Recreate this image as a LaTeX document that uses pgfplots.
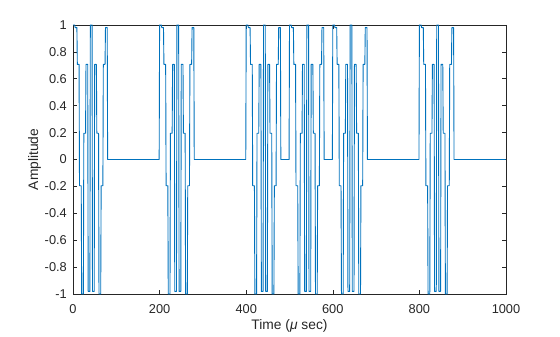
\documentclass[border=0pt]{standalone}
\usepackage{pgfplots}
\pgfplotsset{compat=1.18}
\usepackage{fontspec}
\setmainfont{Liberation Sans}
\definecolor{mblue}{rgb}{0,0.447,0.741}
\definecolor{axgray}{rgb}{0.15,0.15,0.15}
\begin{document}
\begin{tikzpicture}
\path[use as bounding box] (0,0) rectangle (560pt,337pt);
\begin{axis}[
  at={(73pt,43pt)}, anchor=south west,
  scale only axis, width=433pt, height=269pt,
  xmin=0, xmax=1000, ymin=-1, ymax=1,
  xtick={0,200,400,600,800,1000},
  xticklabels={0,200,400,600,800,1000},
  ytick={-1,-0.8,-0.6,-0.4,-0.2,0,0.2,0.4,0.6,0.8,1},
  yticklabels={-1,-0.8,-0.6,-0.4,-0.2,0,0.2,0.4,0.6,0.8,1},
  tick align=inside, major tick length=4.3pt,
  axis line style={axgray, line width=0.6pt},
  tick style={axgray, line width=0.6pt},
  xticklabel style={inner sep=0pt, anchor=north, yshift=-10pt, font=\fontsize{12.8}{15}\selectfont, text=axgray},
  yticklabel style={inner sep=0pt, anchor=east, xshift=-6pt, font=\fontsize{12.8}{15}\selectfont, text=axgray},
  xlabel={Time ({\itshape μ} sec)},
  ylabel={Amplitude},
  xlabel style={at={(axis description cs:0.5,-0.1338)}, anchor=base, inner sep=0pt, font=\fontsize{13.8}{16}\selectfont, text=axgray},
  ylabel style={at={(axis description cs:-0.0808,0.5)}, anchor=base, inner sep=0pt, font=\fontsize{13.8}{16}\selectfont, text=axgray},
  clip=false,
]
\addplot[color=mblue, line width=0.9pt, line join=round] table {
t v
0 1
4 1
5 0.9808
9 0.9808
10 0.7071
14 0.7071
15 -0.1951
19 -0.1951
20 -1
24 -1
25 0.1951
29 0.1951
30 0.7071
34 0.7071
35 -0.9808
39 -0.9808
40 1
44 1
45 -0.9808
49 -0.9808
50 0.7071
54 0.7071
55 0.1951
59 0.1951
60 -1
64 -1
65 -0.1951
69 -0.1951
70 0.7071
74 0.7071
75 0.9808
79 0.9808
80 0
199 0
200 1
204 1
205 0.9808
209 0.9808
210 0.7071
214 0.7071
215 -0.1951
219 -0.1951
220 -1
224 -1
225 0.1951
229 0.1951
230 0.7071
234 0.7071
235 -0.9808
239 -0.9808
240 1
244 1
245 -0.9808
249 -0.9808
250 0.7071
254 0.7071
255 0.1951
259 0.1951
260 -1
264 -1
265 -0.1951
269 -0.1951
270 0.7071
274 0.7071
275 0.9808
279 0.9808
280 0
399 0
400 1
404 1
405 0.9808
409 0.9808
410 0.7071
414 0.7071
415 -0.1951
419 -0.1951
420 -1
424 -1
425 0.1951
429 0.1951
430 0.7071
434 0.7071
435 -0.9808
439 -0.9808
440 1
444 1
445 -0.9808
449 -0.9808
450 0.7071
454 0.7071
455 0.1951
459 0.1951
460 -1
464 -1
465 -0.1951
469 -0.1951
470 0.7071
474 0.7071
475 0.9808
479 0.9808
480 0
499 0
500 1
504 1
505 0.9808
509 0.9808
510 0.7071
514 0.7071
515 -0.1951
519 -0.1951
520 -1
524 -1
525 0.1951
529 0.1951
530 0.7071
534 0.7071
535 -0.9808
539 -0.9808
540 1
544 1
545 -0.9808
549 -0.9808
550 0.7071
554 0.7071
555 0.1951
559 0.1951
560 -1
564 -1
565 -0.1951
569 -0.1951
570 0.7071
574 0.7071
575 0.9808
579 0.9808
580 0
599 0
600 1
604 1
605 0.9808
609 0.9808
610 0.7071
614 0.7071
615 -0.1951
619 -0.1951
620 -1
624 -1
625 0.1951
629 0.1951
630 0.7071
634 0.7071
635 -0.9808
639 -0.9808
640 1
644 1
645 -0.9808
649 -0.9808
650 0.7071
654 0.7071
655 0.1951
659 0.1951
660 -1
664 -1
665 -0.1951
669 -0.1951
670 0.7071
674 0.7071
675 0.9808
679 0.9808
680 0
799 0
800 1
804 1
805 0.9808
809 0.9808
810 0.7071
814 0.7071
815 -0.1951
819 -0.1951
820 -1
824 -1
825 0.1951
829 0.1951
830 0.7071
834 0.7071
835 -0.9808
839 -0.9808
840 1
844 1
845 -0.9808
849 -0.9808
850 0.7071
854 0.7071
855 0.1951
859 0.1951
860 -1
864 -1
865 -0.1951
869 -0.1951
870 0.7071
874 0.7071
875 0.9808
879 0.9808
880 0
999 0
};
\end{axis}
\end{tikzpicture}
\end{document}
